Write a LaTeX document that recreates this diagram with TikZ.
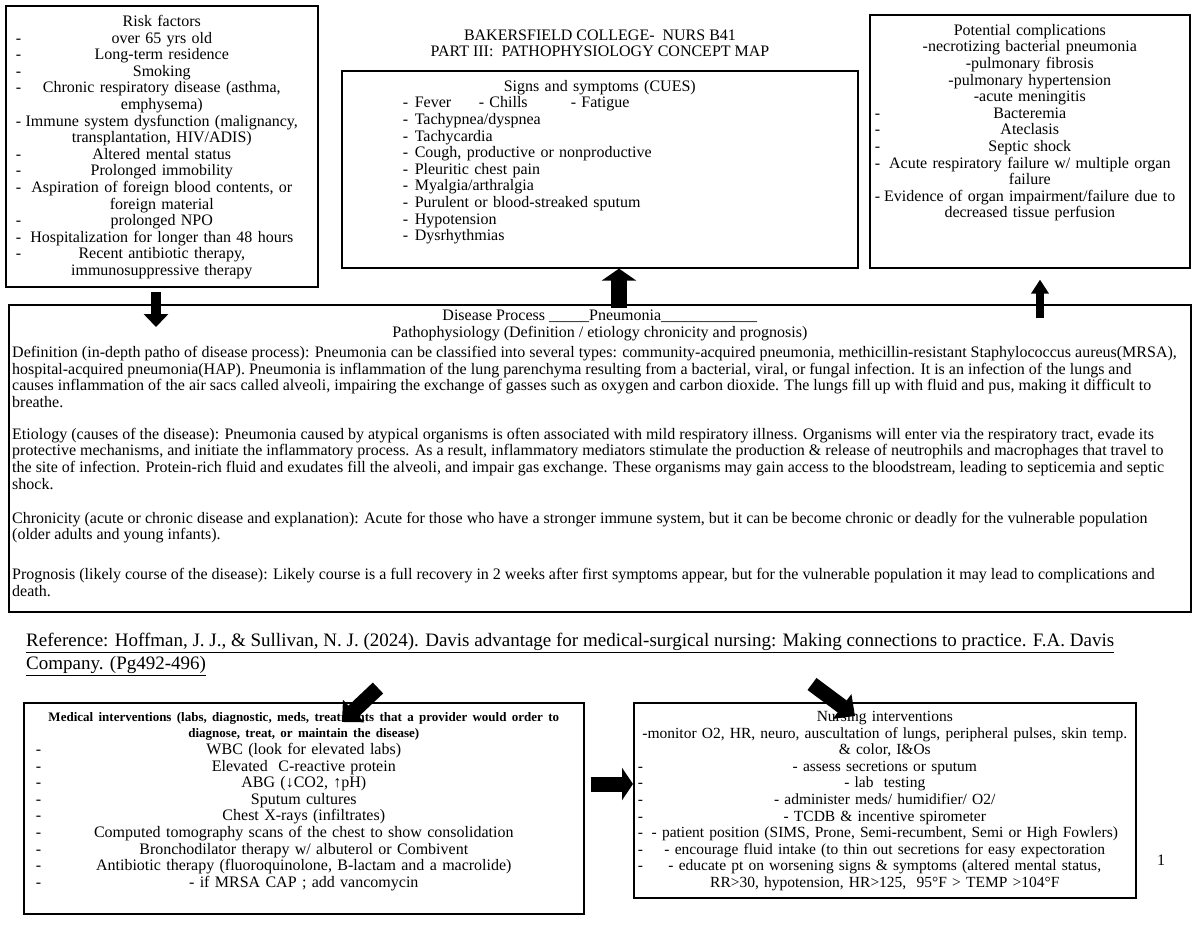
\documentclass[tikz,border=0pt]{standalone}
\usepackage{fontspec}
\setmainfont{Liberation Serif}
\usetikzlibrary{arrows.meta}

% ligne avec tiret a gauche et texte centre
\newcommand\tiret[1]{\makebox[\hsize]{\rlap{-}\hfill#1\hfill}}
% ligne de la liste des signes
\newcommand\signe[1]{\hspace*{57pt}\makebox[12pt][l]{-}#1}

\begin{document}
\begin{tikzpicture}[x=1pt,y=-1pt]
\tikzstyle{fleche}=[line width=10pt,-{Triangle[width=24pt,length=13pt]}]
\tikzset{cadre/.style={draw,line width=1.6pt,anchor=north west,inner sep=0pt},
texte/.style={inner sep=0pt,anchor=north,align=center,font=\fontsize{16}{16.6}\selectfont}}
\useasboundingbox[fill=white] (0,0) rectangle (1200,927);

\node[cadre,minimum width=312pt,minimum height=281pt] (risk) at (5,5) {};
\node[cadre,minimum width=516pt,minimum height=197pt] (signs) at (341,70) {};
\node[cadre,minimum width=320pt,minimum height=253pt] (comp) at (869,14) {};
\node[cadre,minimum width=1182pt,minimum height=307pt] (main) at (8,304) {};
\node[cadre,minimum width=560pt,minimum height=211pt] (med) at (23,702) {};
\node[cadre,minimum width=502pt,minimum height=195pt] (nurs) at (633,702) {};

\node[texte,font=\fontsize{16}{15.5}\selectfont] (titre) at (600,30) {BAKERSFIELD COLLEGE-\ \ NURS B41\\PART III:\ \ PATHOPHYSIOLOGY CONCEPT MAP};

\node[texte,text width=292pt] (risktxt) at ([yshift=-10pt]risk.north) {Risk factors\\
\tiret{over 65 yrs old}\\
\tiret{Long-term residence}\\
\tiret{Smoking}\\
\tiret{Chronic respiratory disease (asthma,}\\
emphysema)\\
\tiret{Immune system dysfunction (malignancy,}\\
transplantation, HIV/ADIS)\\
\tiret{Altered mental status}\\
\tiret{Prolonged immobility}\\
\tiret{Aspiration of foreign blood contents,\ or}\\
foreign material\\
\tiret{prolonged NPO}\\
\tiret{Hospitalization for longer than 48 hours}\\
\tiret{Recent antibiotic therapy,}\\
immunosuppressive therapy};

\node[texte,text width=508pt,align=left] (signstxt) at ([yshift=-10pt]signs.north) {\makebox[\hsize]{Signs and symptoms (CUES)}\\
\signe{\makebox[64pt][l]{Fever}\makebox[92pt][l]{- Chills}- Fatigue}\\
\signe{Tachypnea/dyspnea}\\
\signe{Tachycardia}\\
\signe{Cough, productive or nonproductive}\\
\signe{Pleuritic chest pain}\\
\signe{Myalgia/arthralgia}\\
\signe{Purulent or blood-streaked sputum}\\
\signe{Hypotension}\\
\signe{Dysrhythmias}};

\node[texte,text width=310pt] (comptxt) at ([yshift=-10pt]comp.north) {Potential complications\\
-necrotizing bacterial pneumonia\\
-pulmonary fibrosis\\
-pulmonary hypertension\\
-acute meningitis\\
\tiret{Bacteremia}\\
\tiret{Ateclasis}\\
\tiret{Septic shock}\\
\tiret{Acute respiratory failure w/ multiple organ}\\
failure\\
\tiret{Evidence of organ impairment/failure due to}\\
decreased tissue perfusion};

\node[texte] (maintitre) at ([yshift=-6pt]main.north) {Disease Process \_\_\_\_\_Pneumonia\_\_\_\_\_\_\_\_\_\_\_\_\\
Pathophysiology (Definition / etiology chronicity and prognosis)};

\node[texte,anchor=north west,align=left] (maintxt) at ([xshift=4pt,yshift=-42pt]main.north west) {Definition (in-depth patho of disease process): Pneumonia can be classified into several types: community-acquired pneumonia, methicillin-resistant Staphylococcus aureus(MRSA),\\
hospital-acquired pneumonia(HAP). Pneumonia is inflammation of the lung parenchyma resulting from a bacterial, viral, or fungal infection. It is an infection of the lungs and\\
causes inflammation of the air sacs called alveoli, impairing the exchange of gasses such as oxygen and carbon dioxide. The lungs fill up with fluid and pus, making it difficult to\\
breathe.\\[15.4pt]
Etiology (causes of the disease): Pneumonia caused by atypical organisms is often associated with mild respiratory illness. Organisms will enter via the respiratory tract, evade its\\
protective mechanisms, and initiate the inflammatory process. As a result, inflammatory mediators stimulate the production \& release of neutrophils and macrophages that travel to\\
the site of infection. Protein-rich fluid and exudates fill the alveoli, and impair gas exchange. These organisms may gain access to the bloodstream, leading to septicemia and septic\\
shock.\\[17.4pt]
Chronicity (acute or chronic disease and explanation): Acute for those who have a stronger immune system, but it can be become chronic or deadly for the vulnerable population\\
(older adults and young infants).\\[23.4pt]
Prognosis (likely course of the disease): Likely course is a full recovery in 2 weeks after first symptoms appear, but for the vulnerable population it may lead to complications and\\
death.};

\node[texte,anchor=north west,align=left,font=\fontsize{19}{23}\selectfont] (ref) at (26,633) {\underline{Reference: Hoffman, J. J., \& Sullivan, N. J. (2024). Davis advantage for medical-surgical nursing: Making connections to practice. F.A. Davis}\\
\underline{Company. (Pg492-496)}};

\node[texte,text width=536pt] (medtxt) at ([yshift=-10pt]med.north) {\fontsize{13}{16.6}\selectfont\bfseries Medical interventions (labs, diagnostic, meds, treatments that a provider would order to\\
diagnose, treat, or maintain the disease)\\
\fontsize{16}{16.6}\selectfont\mdseries
\tiret{WBC (look for elevated labs)}\\
\tiret{Elevated\ \ C-reactive protein}\\
\tiret{ABG (↓CO2, ↑pH)}\\
\tiret{Sputum cultures}\\
\tiret{Chest X-rays (infiltrates)}\\
\tiret{Computed tomography scans of the chest to show consolidation}\\
\tiret{Bronchodilator therapy w/ albuterol or Combivent}\\
\tiret{Antibiotic therapy (fluoroquinolone, B-lactam and a macrolide)}\\
\tiret{- if MRSA CAP ; add vancomycin}};

\node[texte,text width=494pt,font=\fontsize{15.5}{16.6}\selectfont] (nurstxt) at ([yshift=-9pt]nurs.north) {Nursing interventions\\
\makebox[\hsize]{-monitor O2, HR, neuro, auscultation of lungs, peripheral pulses, skin temp.}\\
\& color, I\&Os\\
\tiret{- assess secretions or sputum}\\
\tiret{- lab\ \ testing}\\
\tiret{- administer meds/ humidifier/ O2/}\\
\tiret{- TCDB \& incentive spirometer}\\
\tiret{- patient position (SIMS, Prone, Semi-recumbent, Semi or High Fowlers)}\\
\tiret{- encourage fluid intake (to thin out secretions for easy expectoration}\\
\tiret{- educate pt on worsening signs \& symptoms (altered mental status,}\\
RR>30, hypotension, HR>125,\ \ 95°F > TEMP >104°F};

\node[texte,anchor=center] (page) at (1161,860) {1};

% fleches
\coordinate (f1) at (156,327);
\coordinate (f2) at (619,0);
\coordinate (f3) at (1040,0);
\coordinate (f4a) at (378,688);
\coordinate (f4b) at (342,722);
\coordinate (f5a) at (812,684);
\coordinate (f5b) at (855,716);
\coordinate (f6) at (0,784);

\draw[fleche,shorten <=4pt] (risk.south -| f1) -- (f1);
\draw[fleche,line width=16pt,-{Triangle[width=34pt,length=12pt]},shorten <=-4pt] (main.north -| f2) -- (signs.south -| f2);
\draw[fleche,line width=8pt,-{Triangle[width=17pt,length=14pt]},shorten <=-14pt,shorten >=11pt] (main.north -| f3) -- (comp.south -| f3);
\draw[fleche,line width=15pt,-{Triangle[width=30pt,length=16pt]}] (f4a) -- (f4b);
\draw[fleche,line width=15pt,-{Triangle[width=30pt,length=16pt]}] (f5a) -- (f5b);
\draw[fleche,line width=15pt,-{Triangle[width=32pt,length=11pt]},shorten <=6pt] (med.east |- f6) -- (nurs.west |- f6);

\end{tikzpicture}
\end{document}
